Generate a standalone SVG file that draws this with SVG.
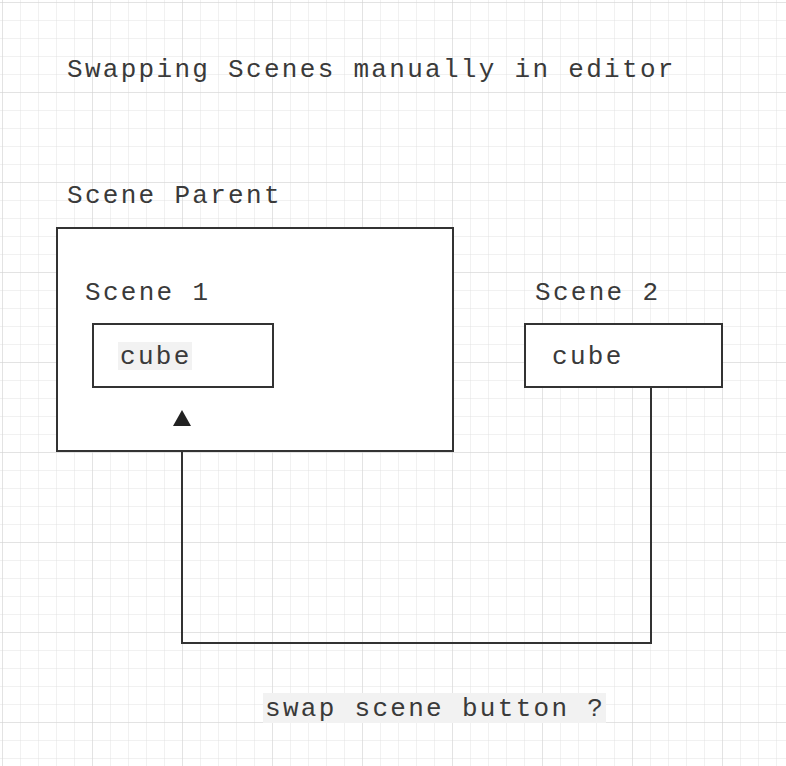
<svg xmlns="http://www.w3.org/2000/svg" width="786" height="766" viewBox="0 0 786 766">
<defs>
<pattern id="g" width="18" height="18" patternUnits="userSpaceOnUse" x="3" y="3"><path d="M18 0V18M0 18H18" fill="none" stroke="#e2e2e2" stroke-width="1"/></pattern>
<pattern id="G" width="90" height="90" patternUnits="userSpaceOnUse" x="3" y="3"><path d="M90 0V90M0 90H90" fill="none" stroke="#d4d4d4" stroke-width="1"/></pattern>
</defs>
<style>
.t{font-family:"Liberation Mono","Courier New",monospace;font-size:26px;letter-spacing:2.3px;fill:#3a3a3a}
.b{fill:#fff;stroke:#333;stroke-width:2}
</style>
<rect width="786" height="766" fill="#fff"/>
<rect width="786" height="766" fill="url(#g)"/>
<rect width="786" height="766" fill="url(#G)"/>
<g id="connectors">
<path d="M651 388V643H182V410" fill="none" stroke="#333" stroke-width="2"/>
</g>
<g id="title"><text class="t" x="67" y="77">Swapping Scenes manually in editor</text></g>
<g id="scene-parent">
<text class="t" x="67" y="203">Scene Parent</text>
<rect class="b" x="57" y="228" width="396" height="223"/>
<path d="M182 410L191 426H173Z" fill="#222"/>
</g>
<g id="scene1">
<text class="t" x="85" y="300">Scene 1</text>
<rect class="b" x="93" y="324" width="180" height="63"/>
<rect x="118" y="342" width="74" height="28" fill="#f2f2f2"/>
<text class="t" x="120" y="364">cube</text>
</g>
<g id="scene2">
<text class="t" x="535" y="300">Scene 2</text>
<rect class="b" x="525" y="324" width="197" height="63"/>
<text class="t" x="552" y="364">cube</text>
</g>
<g id="label">
<rect x="263" y="693" width="343" height="30" fill="#f2f2f2"/>
<text class="t" x="265" y="716">swap scene button ?</text>
</g>
</svg>
